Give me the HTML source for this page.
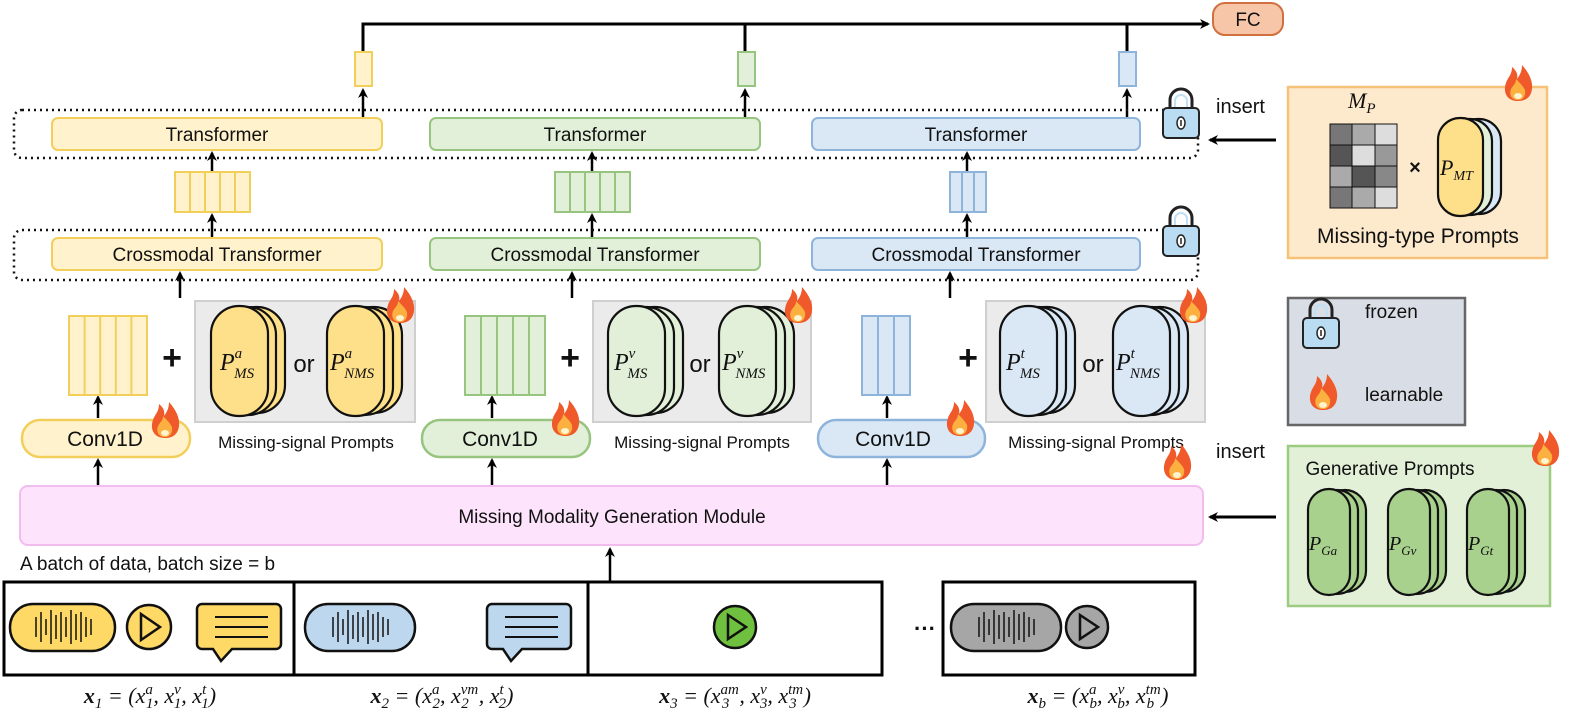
<!DOCTYPE html>
<html><head><meta charset="utf-8"><style>
body{margin:0;background:#fff}
svg{display:block}
text{font-family:"Liberation Sans",sans-serif;fill:#111}
text.m, .m text, .m tspan{font-family:"Liberation Serif",serif;font-style:italic}
</style></head><body>
<svg width="1574" height="721" viewBox="0 0 1574 721" xmlns="http://www.w3.org/2000/svg">
<defs>
<marker id="ah" markerWidth="10" markerHeight="10" refX="8" refY="5" orient="auto" markerUnits="userSpaceOnUse">
<path d="M0,0 L10,5 L0,10 L3,5z" fill="#000"/></marker>
<g id="flame">
<path d="M15,38 C3,38 0,28 3,20 C5,14 9,12 9,4 C14,8 15,12 14,16 C17,12 19,8 19,2 C26,10 30,18 29,26 C28,34 23,38 15,38z" fill="#f0592a"/>
<path d="M15,37 C8,37 6,31 8,26 C10,22 13,21 13,16 C17,20 20,23 22,27 C23,33 20,37 15,37z" fill="#fbb040"/>
<ellipse cx="15" cy="33" rx="4" ry="3" fill="#fff3d0"/>
</g>
<g id="lock">
<path d="M10,22 V12 a11,11 0 0 1 22,0 V22" fill="none" stroke="#222" stroke-width="3"/>
<path d="M15,22 V13 a6,6 0 0 1 12,0 V22" fill="none" stroke="#bfe0f5" stroke-width="2"/>
<rect x="3" y="20" width="36" height="30" rx="4" fill="#b9dcf2" stroke="#222" stroke-width="2"/>
<ellipse cx="21" cy="35" rx="4" ry="6" fill="#fff" stroke="#222" stroke-width="1.5"/>
<line x1="21" y1="32" x2="21" y2="38" stroke="#222" stroke-width="1.5"/>
</g>
</defs>

<path d="M363,52 V24 H1208" fill="none" stroke="#000" stroke-width="3" marker-end="url(#ah)"/>
<line x1="745" y1="24" x2="745" y2="52" stroke="#000" stroke-width="3"/>
<line x1="1127" y1="24" x2="1127" y2="52" stroke="#000" stroke-width="3"/>
<rect x="1213" y="3" width="70" height="32" rx="12" fill="#f7c6a9" stroke="#d0703e" stroke-width="2"/>
<text x="1248" y="26" font-size="19" text-anchor="middle">FC</text>
<rect x="355" y="52" width="17" height="34" fill="#fff2cc" stroke="#f2cf5b" stroke-width="2"/>
<rect x="738" y="52" width="17" height="34" fill="#e2f0d9" stroke="#97c47e" stroke-width="2"/>
<rect x="1119" y="52" width="17" height="34" fill="#dae8f6" stroke="#8fb4dc" stroke-width="2"/>
<g stroke="#000" stroke-width="2.5" marker-end="url(#ah)">
<line x1="363" y1="118" x2="363" y2="90"/><line x1="745" y1="118" x2="745" y2="90"/><line x1="1127" y1="118" x2="1127" y2="90"/>
<line x1="212" y1="172" x2="212" y2="153"/><line x1="592" y1="172" x2="592" y2="153"/><line x1="967" y1="172" x2="967" y2="153"/>
<line x1="212" y1="238" x2="212" y2="215"/><line x1="592" y1="238" x2="592" y2="215"/><line x1="967" y1="238" x2="967" y2="215"/>
<line x1="180" y1="298" x2="180" y2="273"/><line x1="572" y1="298" x2="572" y2="273"/><line x1="950" y1="298" x2="950" y2="273"/>
<line x1="98" y1="418" x2="98" y2="397"/><line x1="492" y1="418" x2="492" y2="397"/><line x1="887" y1="418" x2="887" y2="397"/>
<line x1="98" y1="485" x2="98" y2="460"/><line x1="492" y1="485" x2="492" y2="460"/><line x1="887" y1="485" x2="887" y2="460"/>
<line x1="610" y1="582" x2="610" y2="549"/>
</g>

<rect x="14" y="110" width="1184" height="48" rx="8" fill="none" stroke="#111" stroke-width="2.5" stroke-dasharray="2,4"/>
<rect x="14" y="230" width="1184" height="50" rx="8" fill="none" stroke="#111" stroke-width="2.5" stroke-dasharray="2,4"/>
<rect x="52" y="118" width="330" height="32" rx="6" fill="#fff2cc" stroke="#f2cf5b" stroke-width="2"/>
<rect x="430" y="118" width="330" height="32" rx="6" fill="#e2f0d9" stroke="#97c47e" stroke-width="2"/>
<rect x="812" y="118" width="328" height="32" rx="6" fill="#dae8f6" stroke="#8fb4dc" stroke-width="2"/>
<text x="217" y="141" font-size="19" text-anchor="middle">Transformer</text>
<text x="595" y="141" font-size="19" text-anchor="middle">Transformer</text>
<text x="976" y="141" font-size="19" text-anchor="middle">Transformer</text>
<rect x="52" y="238" width="330" height="32" rx="6" fill="#fff2cc" stroke="#f2cf5b" stroke-width="2"/>
<rect x="430" y="238" width="330" height="32" rx="6" fill="#e2f0d9" stroke="#97c47e" stroke-width="2"/>
<rect x="812" y="238" width="328" height="32" rx="6" fill="#dae8f6" stroke="#8fb4dc" stroke-width="2"/>
<text x="217" y="261" font-size="19" text-anchor="middle">Crossmodal Transformer</text>
<text x="595" y="261" font-size="19" text-anchor="middle">Crossmodal Transformer</text>
<text x="976" y="261" font-size="19" text-anchor="middle">Crossmodal Transformer</text>
<use href="#lock" x="1160" y="88"/>
<use href="#lock" x="1160" y="206"/>

<g fill="#fff2cc" stroke="#f2cf5b" stroke-width="2">
<rect x="175" y="172" width="75" height="40"/><line x1="190" y1="172" x2="190" y2="212"/><line x1="205" y1="172" x2="205" y2="212"/><line x1="220" y1="172" x2="220" y2="212"/><line x1="235" y1="172" x2="235" y2="212"/>
<rect x="69" y="316" width="78" height="79"/><line x1="84.6" y1="316" x2="84.6" y2="395"/><line x1="100.2" y1="316" x2="100.2" y2="395"/><line x1="115.8" y1="316" x2="115.8" y2="395"/><line x1="131.4" y1="316" x2="131.4" y2="395"/>
</g>
<g fill="#e2f0d9" stroke="#97c47e" stroke-width="2">
<rect x="555" y="172" width="75" height="40"/><line x1="570" y1="172" x2="570" y2="212"/><line x1="585" y1="172" x2="585" y2="212"/><line x1="600" y1="172" x2="600" y2="212"/><line x1="615" y1="172" x2="615" y2="212"/>
<rect x="465" y="316" width="80" height="79"/><line x1="481" y1="316" x2="481" y2="395"/><line x1="497" y1="316" x2="497" y2="395"/><line x1="513" y1="316" x2="513" y2="395"/><line x1="529" y1="316" x2="529" y2="395"/>
</g>
<g fill="#dae8f6" stroke="#8fb4dc" stroke-width="2">
<rect x="950" y="172" width="36" height="40"/><line x1="962" y1="172" x2="962" y2="212"/><line x1="974" y1="172" x2="974" y2="212"/>
<rect x="862" y="316" width="48" height="79"/><line x1="878" y1="316" x2="878" y2="395"/><line x1="894" y1="316" x2="894" y2="395"/>
</g>
<g font-size="34" font-weight="bold" text-anchor="middle"><text x="172" y="369">+</text><text x="570" y="369">+</text><text x="968" y="369">+</text></g>

<rect x="195" y="301" width="220" height="121" fill="#ebebeb" stroke="#cfcfcf" stroke-width="2"/>
<rect x="593" y="301" width="218" height="121" fill="#ebebeb" stroke="#cfcfcf" stroke-width="2"/>
<rect x="986" y="301" width="219" height="121" fill="#ebebeb" stroke="#cfcfcf" stroke-width="2"/>
<g stroke="#111" stroke-width="2.2">
<g fill="#ffe08a"><rect x="228" y="307" width="57" height="106" rx="28"/><rect x="219" y="307" width="57" height="108" rx="28"/><rect x="211" y="306" width="57" height="110" rx="28"/>
<rect x="345" y="307" width="57" height="106" rx="28"/><rect x="336" y="307" width="57" height="108" rx="28"/><rect x="327" y="306" width="57" height="110" rx="28"/></g>
<g fill="#e2f0d9"><rect x="626" y="307" width="57" height="106" rx="28"/><rect x="617" y="307" width="57" height="108" rx="28"/><rect x="608" y="306" width="57" height="110" rx="28"/>
<rect x="737" y="307" width="57" height="106" rx="28"/><rect x="728" y="307" width="57" height="108" rx="28"/><rect x="719" y="306" width="57" height="110" rx="28"/></g>
<g fill="#dae8f6"><rect x="1018" y="307" width="57" height="106" rx="28"/><rect x="1009" y="307" width="57" height="108" rx="28"/><rect x="1000" y="306" width="57" height="110" rx="28"/>
<rect x="1131" y="307" width="57" height="106" rx="28"/><rect x="1122" y="307" width="57" height="108" rx="28"/><rect x="1113" y="306" width="57" height="110" rx="28"/></g>
</g>
<g font-size="24">
<text x="220" y="370" class="m">P<tspan font-size="15" dy="-12">a</tspan><tspan font-size="15" dx="-8" dy="20">MS</tspan></text>
<text x="330" y="370" class="m">P<tspan font-size="15" dy="-12">a</tspan><tspan font-size="15" dx="-8" dy="20">NMS</tspan></text>
<text x="614" y="370" class="m">P<tspan font-size="15" dy="-12">v</tspan><tspan font-size="15" dx="-8" dy="20">MS</tspan></text>
<text x="722" y="370" class="m">P<tspan font-size="15" dy="-12">v</tspan><tspan font-size="15" dx="-8" dy="20">NMS</tspan></text>
<text x="1006" y="370" class="m">P<tspan font-size="15" dy="-12">t</tspan><tspan font-size="15" dx="-5" dy="20">MS</tspan></text>
<text x="1116" y="370" class="m">P<tspan font-size="15" dy="-12">t</tspan><tspan font-size="15" dx="-5" dy="20">NMS</tspan></text>
</g>
<g font-size="24" text-anchor="middle"><text x="304" y="372">or</text><text x="700" y="372">or</text><text x="1093" y="372">or</text></g>
<use href="#flame" x="385" y="285"/><use href="#flame" x="783" y="285"/><use href="#flame" x="1178" y="285"/>

<rect x="22" y="420" width="168" height="37" rx="18" fill="#fff2cc" stroke="#f2cf5b" stroke-width="2.5"/>
<rect x="422" y="420" width="168" height="37" rx="18" fill="#e2f0d9" stroke="#97c47e" stroke-width="2.5"/>
<rect x="818" y="420" width="167" height="37" rx="18" fill="#dae8f6" stroke="#8fb4dc" stroke-width="2.5"/>
<g font-size="21" text-anchor="middle"><text x="105" y="446">Conv1D</text><text x="500" y="446">Conv1D</text><text x="893" y="446">Conv1D</text></g>
<use href="#flame" x="150" y="400"/><use href="#flame" x="550" y="398"/><use href="#flame" x="945" y="398"/>
<g font-size="17" text-anchor="middle"><text x="306" y="448">Missing-signal  Prompts</text><text x="702" y="448">Missing-signal  Prompts</text><text x="1096" y="448">Missing-signal  Prompts</text></g>

<rect x="20" y="486" width="1183" height="59" rx="8" fill="#fde3fb" stroke="#f2bdee" stroke-width="2"/>
<text x="612" y="523" font-size="19" text-anchor="middle">Missing Modality Generation Module</text>
<use href="#flame" x="1162" y="442"/>
<text x="20" y="570" font-size="19">A batch of data, batch size = b</text>

<rect x="4" y="582" width="878" height="93" fill="#fff" stroke="#000" stroke-width="3"/>
<line x1="294" y1="582" x2="294" y2="675" stroke="#000" stroke-width="3"/>
<line x1="588" y1="582" x2="588" y2="675" stroke="#000" stroke-width="3"/>
<rect x="943" y="582" width="252" height="93" fill="#fff" stroke="#000" stroke-width="3"/>
<text x="925" y="636" font-size="22" font-weight="bold" text-anchor="middle">···</text>
<g stroke="#111" stroke-width="2.5">
<rect x="10" y="604" width="105" height="47" rx="23" fill="#ffd966"/>
<circle cx="149" cy="627" r="22" fill="#ffd966"/><path d="M141,614 L160,627 L141,640z" fill="none"/>
<path d="M202,604 h74 a5,5 0 0 1 5,5 v35 a5,5 0 0 1 -5,5 h-44 l-11,12 l-8,-12 h-11 a5,5 0 0 1 -5,-5 v-35 a5,5 0 0 1 5,-5z" fill="#ffd966"/>
<rect x="305" y="604" width="110" height="47" rx="23" fill="#bdd7ee"/>
<path d="M492,604 h74 a5,5 0 0 1 5,5 v35 a5,5 0 0 1 -5,5 h-44 l-11,12 l-8,-12 h-11 a5,5 0 0 1 -5,-5 v-35 a5,5 0 0 1 5,-5z" fill="#bdd7ee"/>
<circle cx="735" cy="627" r="21" fill="#70c040"/><path d="M728,615 L746,627 L728,639z" fill="none"/>
<rect x="951" y="604" width="110" height="47" rx="23" fill="#a6a6a6"/>
<circle cx="1087" cy="627" r="21" fill="#a6a6a6"/><path d="M1080,615 L1098,627 L1080,639z" fill="none"/>
</g>
<g stroke="#111" stroke-width="2">
<line x1="215" y1="617" x2="268" y2="617"/><line x1="215" y1="627" x2="268" y2="627"/><line x1="215" y1="637" x2="268" y2="637"/>
<line x1="505" y1="617" x2="558" y2="617"/><line x1="505" y1="627" x2="558" y2="627"/><line x1="505" y1="637" x2="558" y2="637"/>
</g>
<g stroke="#111" stroke-width="1.5">
<path d="M36,617v20M41,612v30M46,619v16M51,610v34M56,615v24M61,612v30M66,617v20M71,610v34M76,614v26M81,612v30M86,617v20M91,619v16"/>
<path d="M333,617v20M338,612v30M343,619v16M348,610v34M353,615v24M358,612v30M363,617v20M368,610v34M373,614v26M378,612v30M383,617v20M388,619v16"/>
<path d="M979,617v20M984,612v30M989,619v16M994,610v34M999,615v24M1004,612v30M1009,617v20M1014,610v34M1019,614v26M1024,612v30M1029,617v20M1034,619v16"/>
</g>
<g font-size="22" text-anchor="middle">
<text class="m" x="150" y="703"><tspan font-weight="bold">x</tspan><tspan font-size="15" dy="5" font-style="normal">1</tspan><tspan dy="-5" font-style="normal"> = (</tspan>x<tspan font-size="15" dy="-9">a</tspan><tspan font-size="15" dx="-7" dy="14" font-style="normal">1</tspan><tspan dy="-5" font-style="normal">, </tspan>x<tspan font-size="15" dy="-9">v</tspan><tspan font-size="15" dx="-7" dy="14" font-style="normal">1</tspan><tspan dy="-5" font-style="normal">, </tspan>x<tspan font-size="15" dy="-9">t</tspan><tspan font-size="15" dx="-5" dy="14" font-style="normal">1</tspan><tspan dy="-5" font-style="normal">)</tspan></text>
<text class="m" x="442" y="703"><tspan font-weight="bold">x</tspan><tspan font-size="15" dy="5" font-style="normal">2</tspan><tspan dy="-5" font-style="normal"> = (</tspan>x<tspan font-size="15" dy="-9">a</tspan><tspan font-size="15" dx="-7" dy="14" font-style="normal">2</tspan><tspan dy="-5" font-style="normal">, </tspan>x<tspan font-size="15" dy="-9">vm</tspan><tspan font-size="15" dx="-17" dy="14" font-style="normal">2</tspan><tspan dy="-5" font-style="normal" dx="10">, </tspan>x<tspan font-size="15" dy="-9">t</tspan><tspan font-size="15" dx="-5" dy="14" font-style="normal">2</tspan><tspan dy="-5" font-style="normal">)</tspan></text>
<text class="m" x="735" y="703"><tspan font-weight="bold">x</tspan><tspan font-size="15" dy="5" font-style="normal">3</tspan><tspan dy="-5" font-style="normal"> = (</tspan>x<tspan font-size="15" dy="-9">am</tspan><tspan font-size="15" dx="-17" dy="14" font-style="normal">3</tspan><tspan dy="-5" font-style="normal" dx="10">, </tspan>x<tspan font-size="15" dy="-9">v</tspan><tspan font-size="15" dx="-7" dy="14" font-style="normal">3</tspan><tspan dy="-5" font-style="normal">, </tspan>x<tspan font-size="15" dy="-9">tm</tspan><tspan font-size="15" dx="-14" dy="14" font-style="normal">3</tspan><tspan dy="-5" font-style="normal" dx="7">)</tspan></text>
<text class="m" x="1098" y="703"><tspan font-weight="bold">x</tspan><tspan font-size="15" dy="5">b</tspan><tspan dy="-5" font-style="normal"> = (</tspan>x<tspan font-size="15" dy="-9">a</tspan><tspan font-size="15" dx="-7" dy="14">b</tspan><tspan dy="-5" font-style="normal">, </tspan>x<tspan font-size="15" dy="-9">v</tspan><tspan font-size="15" dx="-7" dy="14">b</tspan><tspan dy="-5" font-style="normal">, </tspan>x<tspan font-size="15" dy="-9">tm</tspan><tspan font-size="15" dx="-14" dy="14">b</tspan><tspan dy="-5" font-style="normal" dx="7">)</tspan></text>
</g>

<text x="1216" y="113" font-size="20">insert</text>
<line x1="1276" y1="140" x2="1210" y2="140" stroke="#000" stroke-width="3" marker-end="url(#ah)"/>
<rect x="1288" y="87" width="259" height="171" fill="#fde9cc" stroke="#f6c27a" stroke-width="2.5"/>
<use href="#flame" x="1503" y="63"/>
<text x="1348" y="108" font-size="22" class="m">M<tspan font-size="15" dy="5">P</tspan></text>
<g stroke="#111" stroke-width="1">
<rect x="1330" y="124" width="22" height="21" fill="#777"/><rect x="1352" y="124" width="23" height="21" fill="#aaa"/><rect x="1375" y="124" width="22" height="21" fill="#ddd"/>
<rect x="1330" y="145" width="22" height="21" fill="#555"/><rect x="1352" y="145" width="23" height="21" fill="#ddd"/><rect x="1375" y="145" width="22" height="21" fill="#999"/>
<rect x="1330" y="166" width="22" height="21" fill="#aaa"/><rect x="1352" y="166" width="23" height="21" fill="#555"/><rect x="1375" y="166" width="22" height="21" fill="#888"/>
<rect x="1330" y="187" width="22" height="21" fill="#777"/><rect x="1352" y="187" width="23" height="21" fill="#aaa"/><rect x="1375" y="187" width="22" height="21" fill="#ddd"/>
</g>
<text x="1415" y="174" font-size="20" font-weight="bold" text-anchor="middle">×</text>
<g stroke="#111" stroke-width="2.2">
<rect x="1456" y="119" width="45" height="95" rx="22" fill="#dae8f6"/>
<rect x="1447" y="119" width="45" height="96" rx="22" fill="#e2f0d9"/>
<rect x="1438" y="118" width="45" height="98" rx="22" fill="#ffe08a"/>
</g>
<text x="1440" y="175" font-size="22" class="m">P<tspan font-size="14" dy="5">MT</tspan></text>
<text x="1418" y="243" font-size="21" text-anchor="middle">Missing-type Prompts</text>

<rect x="1288" y="298" width="177" height="127" fill="#d9dde5" stroke="#666" stroke-width="2.5"/>
<use href="#lock" x="1300" y="298"/>
<text x="1365" y="318" font-size="19">frozen</text>
<use href="#flame" x="1308" y="372"/>
<text x="1365" y="401" font-size="19">learnable</text>

<text x="1216" y="458" font-size="20">insert</text>
<line x1="1276" y1="517" x2="1210" y2="517" stroke="#000" stroke-width="3" marker-end="url(#ah)"/>
<rect x="1288" y="446" width="262" height="160" fill="#e3f0d8" stroke="#9bcc80" stroke-width="2.5"/>
<use href="#flame" x="1530" y="428"/>
<text x="1390" y="475" font-size="19" text-anchor="middle">Generative Prompts</text>
<g stroke="#111" stroke-width="2.2" fill="#a9d18e">
<rect x="1324" y="490" width="42" height="102" rx="21"/><rect x="1316" y="490" width="42" height="104" rx="21"/><rect x="1308" y="489" width="42" height="106" rx="21"/>
<rect x="1404" y="490" width="42" height="102" rx="21"/><rect x="1396" y="490" width="42" height="104" rx="21"/><rect x="1388" y="489" width="42" height="106" rx="21"/>
<rect x="1483" y="490" width="42" height="102" rx="21"/><rect x="1475" y="490" width="42" height="104" rx="21"/><rect x="1467" y="489" width="42" height="106" rx="21"/>
</g>
<g font-size="20">
<text class="m" x="1309" y="550">P<tspan font-size="13" dy="5">Ga</tspan></text>
<text class="m" x="1389" y="550">P<tspan font-size="13" dy="5">Gv</tspan></text>
<text class="m" x="1468" y="550">P<tspan font-size="13" dy="5">Gt</tspan></text>
</g>
</svg>
</body></html>
